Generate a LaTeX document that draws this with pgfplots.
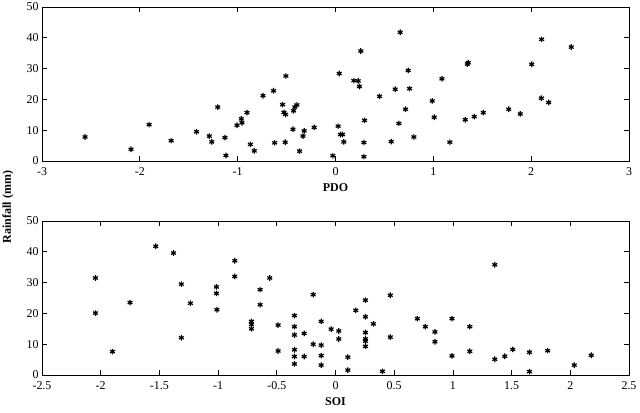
\documentclass[border=0pt]{standalone}
\usepackage{pgfplots}
\pgfplotsset{compat=1.18}
\usepackage{fontspec}
\setmainfont{Liberation Serif}
\begin{document}
\begin{tikzpicture}
\useasboundingbox (0,0) rectangle (640bp,413bp);
\pgfplotsset{
  myax/.style={
    scale only axis, width=587bp, height=154bp,
    axis line style={black, line width=0.8pt},
    tick style={black, line width=0.8pt},
    major tick length=5bp, tick align=inside,
    ymin=0, ymax=50, ytick={0,10,...,50},
    ticklabel style={font=\fontsize{12}{14}\selectfont},
    xticklabel style={yshift=-3bp},
    /pgf/number format/assume math mode=true,
    xlabel style={font=\fontsize{12}{14}\selectfont\bfseries, yshift=-1bp},
  },
  mypl/.style={only marks, mark=asterisk, mark size=2.8bp, black, mark options={line width=1.2pt}},
}
\begin{axis}[myax, at={(42bp,252bp)}, anchor=south west,
  xmin=-3, xmax=3, xtick={-3,-2,...,3}, xlabel={PDO}]
\addplot[mypl] table {
x y
-2.56 7.8
-2.09 3.8
-1.905 11.8
-1.68 6.6
-1.42 9.5
-1.29 8.1
-1.265 6.2
-1.204 17.5
-1.13 7.6
-1.12 1.8
-1.007 11.6
-0.963 13.7
-0.956 12.4
-0.905 15.7
-0.87 5.4
-0.83 3.3
-0.741 21.2
-0.633 22.8
-0.622 5.9
-0.541 18.3
-0.527 15.8
-0.51 15.1
-0.507 27.6
-0.514 6.1
-0.435 10.3
-0.429 16.3
-0.415 17.5
-0.395 18.2
-0.367 3.2
-0.333 8.1
-0.32 9.8
-0.218 10.9
-0.027 1.7
0.027 11.3
0.038 28.4
0.051 8.6
0.072 8.6
0.085 6.2
0.188 26.1
0.232 26.0
0.245 24.2
0.259 35.7
0.29 6.0
0.29 1.4
0.297 13.2
0.45 21.0
0.569 6.3
0.61 23.3
0.648 12.2
0.661 41.8
0.716 16.8
0.743 29.4
0.757 23.5
0.801 7.8
0.989 19.5
1.009 14.2
1.088 26.7
1.169 6.1
1.326 13.4
1.347 31.5
1.357 31.9
1.418 14.4
1.51 15.7
1.77 16.8
1.889 15.3
2.005 31.4
2.104 20.4
2.107 39.5
2.179 19.0
2.41 37.0
};
\end{axis}
\begin{axis}[myax, at={(42bp,38bp)}, anchor=south west,
  xmin=-2.5, xmax=2.5, xtick={-2.5,-2,...,2.5}, xlabel={SOI}]
\addplot[mypl] table {
x y
-2.045 31.5
-2.045 20.1
-1.90 7.6
-1.75 23.5
-1.531 41.8
-1.38 39.6
-1.313 29.5
-1.313 12.1
-1.236 23.3
-1.014 28.6
-1.014 26.5
-1.01 21.2
-0.858 37.1
-0.858 32.0
-0.716 17.4
-0.716 16.4
-0.716 15.0
-0.642 27.7
-0.642 22.8
-0.56 31.5
-0.489 16.2
-0.489 7.8
-0.35 19.3
-0.35 15.7
-0.35 13.0
-0.35 8.2
-0.35 6.0
-0.35 3.6
-0.267 13.5
-0.267 6.0
-0.19 26.1
-0.19 10.0
-0.122 17.4
-0.122 9.7
-0.122 6.3
-0.122 3.2
-0.037 14.9
0.028 14.3
0.028 11.7
0.105 5.8
0.105 1.6
0.173 21.0
0.255 24.3
0.255 18.9
0.255 13.8
0.255 11.7
0.255 11.0
0.255 9.3
0.323 16.6
0.40 1.2
0.467 25.9
0.467 12.3
0.697 18.3
0.765 15.7
0.847 14.0
0.847 10.8
0.992 18.3
0.992 6.2
1.144 15.7
1.144 7.7
1.357 35.8
1.357 5.1
1.442 6.1
1.51 8.3
1.652 7.4
1.652 1.1
1.807 7.9
2.034 3.2
2.178 6.4
};
\end{axis}
\node[rotate=90, font=\fontsize{12}{14}\selectfont\bfseries] at (8bp,206bp) {Rainfall (mm)};
\end{tikzpicture}
\end{document}
